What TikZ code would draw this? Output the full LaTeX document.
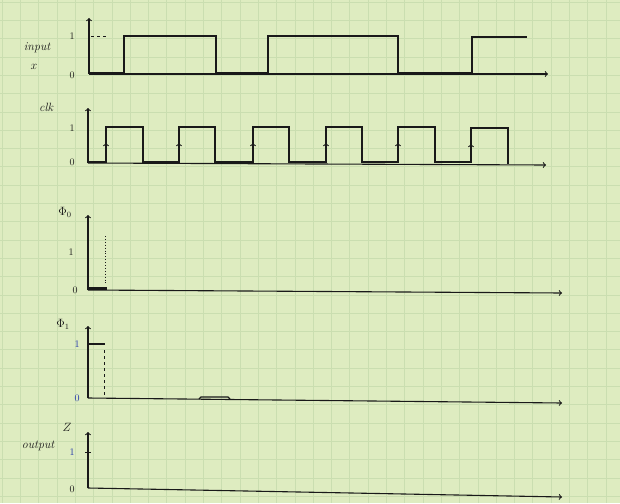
\documentclass[tikz,border=0pt]{standalone}
\usepackage{amsmath}
\usepackage{amssymb}
\usepackage{tikz}

\definecolor{paper}{RGB}{222,236,192}
\definecolor{gridline}{RGB}{202,222,176}
\definecolor{ink}{RGB}{25,25,25}
\definecolor{blueink}{RGB}{30,50,170}

\begin{document}
\begin{tikzpicture}[x=1pt, y=-1pt, line width=1.1pt, ink,
  lbl/.style={font=\large\itshape},
  num/.style={font=\normalsize}]
\useasboundingbox (0,0) rectangle (620,503);
\fill[paper] (0,0) rectangle (620,503);
\foreach \g in {0,...,34} {
  \draw[gridline, line width=0.6pt] (\g*18.3+2,0) -- (\g*18.3+2,503);
}
\foreach \g in {0,...,28} {
  \draw[gridline, line width=0.6pt] (0,\g*18.3+2) -- (620,\g*18.3+2);
}

% input x
\draw[->] (89,74) -- (89,18) coordinate (x top);
\draw[->] (89,74) -- (548,74) coordinate (x axis);
\node[lbl] (x name) at (37,48) {input};
\node[font=\large] (x var) at (34,67) {$x$};
\node[num] (x one) at (72,36) {1};
\node[num] (x zero) at (72,75) {0};
\draw[dashed, line width=0.8pt] (91,36) -- (108,36);
\draw plot coordinates {(89,73) (124,73) (124,36) (216,36) (216,73) (268,73) (268,36) (398,36) (398,73) (472,73) (472,37) (527,37)};

% clk
\draw[->] (88,163) -- (88,108) coordinate (clk top);
\draw[->] (88,163) -- (546,165) coordinate (clk axis);
\node[lbl] (clk name) at (46,107) {clk};
\node[num] (clk one) at (72,128) {1};
\node[num] (clk zero) at (72,162) {0};
\draw plot coordinates {(88,162) (106,162) (106,127) (143,127) (143,162) (179,162) (179,127) (215,127) (215,162) (253,162) (253,127) (289,127) (289,162) (326,162) (326,127) (362,127) (362,162) (398,162) (398,127) (435,127) (435,162) (471,162) (471,128) (508,128) (508,164)};
\draw[->] (106,158) -- (106,143);
\draw[->] (179,158) -- (179,143);
\draw[->] (253,158) -- (253,143);
\draw[->] (326,158) -- (326,143);
\draw[->] (398,158) -- (398,143);
\draw[->] (471,158) -- (471,144);

% Phi0
\draw[->] (88,290) -- (88,215) coordinate (p0 top);
\draw[->] (88,290) -- (562,293) coordinate (p0 axis);
\node[font=\large] (p0 name) at (65,212) {$\Phi_0$};
\node[num] (p0 one) at (71,252) {1};
\node[num] (p0 zero) at (75,290) {0};
\draw[line width=2.2pt] (88,288.5) -- (107,288.5);
\draw[dotted, line width=0.9pt] (105,236) -- (105,285);

% Phi1
\draw[->] (88,398) -- (88,326) coordinate (p1 top);
\draw[->] (88,398) -- (562,403) coordinate (p1 axis);
\node[font=\large] (p1 name) at (63,324) {$\Phi_1$};
\node[num, blueink] (p1 one) at (77,344) {1};
\node[num, blueink] (p1 zero) at (77,398) {0};
\draw (88,344) -- (105,344);
\draw[dashed, line width=0.8pt] (104,350) -- (104,396);
\draw (199,399) -- (201,397) -- (228,397) -- (230,399);

% Z output
\draw[->] (88,488) -- (88,432) coordinate (z top);
\draw[->] (88,488) -- (562,497) coordinate (z axis);
\node[font=\large] (z name) at (67,427) {$Z$};
\node[lbl] (z out) at (38,446) {output};
\node[num, blueink] (z one) at (72,452) {1};
\node[num] (z zero) at (72,489) {0};
\draw[line width=0.8pt] (85,452) -- (91,452);
\end{tikzpicture}
\end{document}
